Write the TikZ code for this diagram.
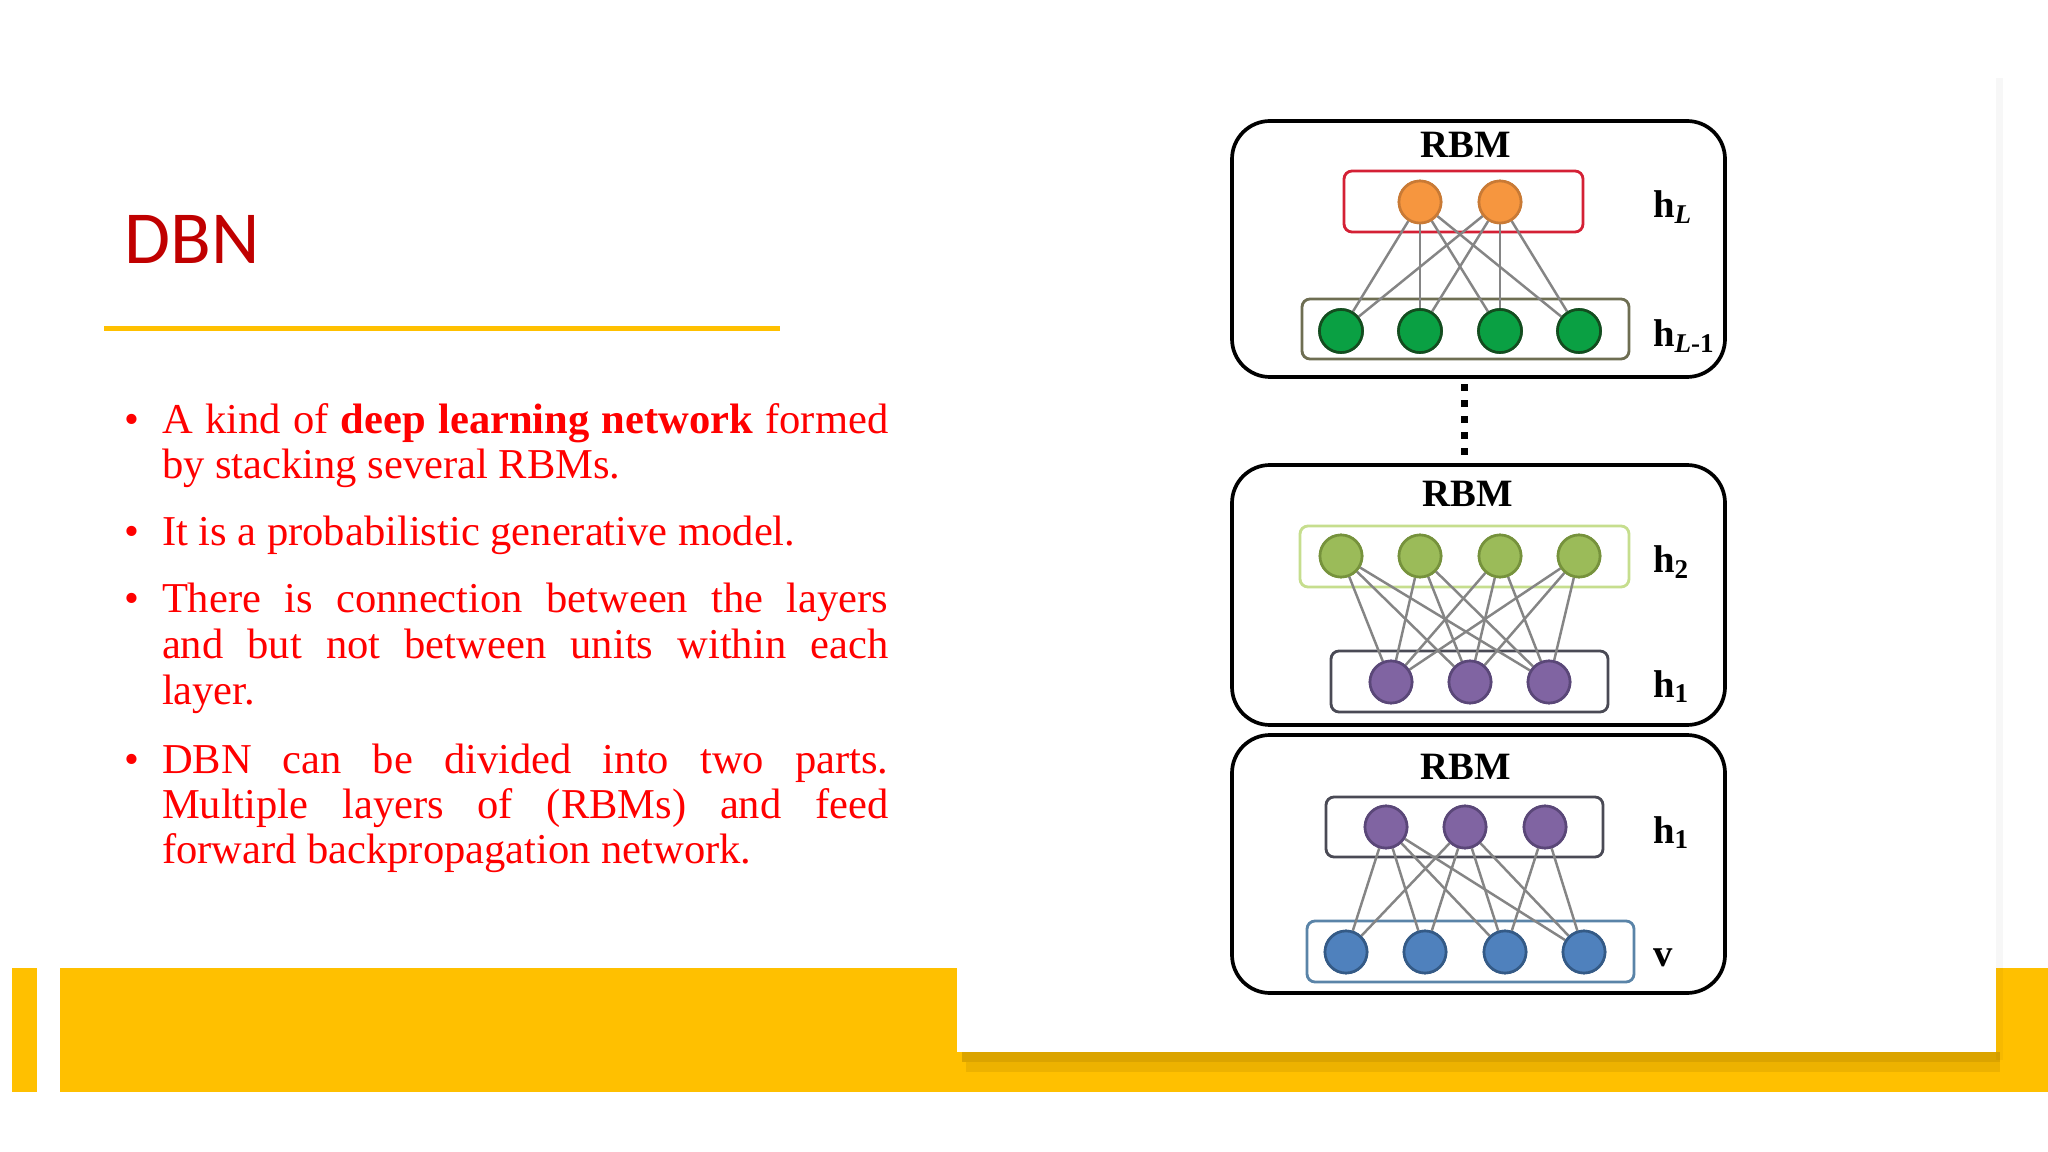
\documentclass[tikz,border=0pt]{standalone}
\usepackage{fontspec}
\setmainfont{Liberation Serif}
\newfontfamily\titlefont{Carlito}
\definecolor{slideyellow}{HTML}{FFC000}
\definecolor{titlered}{HTML}{C00000}
\definecolor{bodyred}{HTML}{FF0000}
\definecolor{linkgray}{HTML}{858585}
\definecolor{orfill}{HTML}{F6963F}
\definecolor{ordraw}{HTML}{C97A35}
\definecolor{dgfill}{HTML}{0AA043}
\definecolor{dgdraw}{HTML}{134D1F}
\definecolor{lgfill}{HTML}{9BBB59}
\definecolor{lgdraw}{HTML}{76923C}
\definecolor{pufill}{HTML}{8064A2}
\definecolor{pudraw}{HTML}{5A4778}
\definecolor{blfill}{HTML}{4F81BD}
\definecolor{bldraw}{HTML}{345A86}
\definecolor{boxred}{HTML}{D42035}
\definecolor{boxolive}{HTML}{6E6E52}
\definecolor{boxlg}{HTML}{C6DE8E}
\definecolor{boxgray}{HTML}{4A4A55}
\definecolor{boxblue}{HTML}{5A84A8}
\tikzset{
  txt/.style={anchor=base west, inner sep=0pt, outer sep=0pt, text=bodyred,
    font=\fontsize{12.1pt}{13pt}\selectfont},
  bul/.style={anchor=base west, inner sep=0pt, outer sep=0pt, text=bodyred,
    font=\fontsize{12.1pt}{13pt}\selectfont},
  unit/.style={circle, minimum size=4.2mm, inner sep=0pt, line width=0.75pt},
  layerbox/.style={rounded corners=0.8mm, line width=0.8pt},
  rbmbox/.style={rounded corners=3.8mm, draw=black, line width=1.05pt},
  link/.style={draw=linkgray, line width=0.7pt},
  lbl/.style={anchor=base west, inner sep=0pt, outer sep=0pt,
    font=\fontsize{11pt}{13pt}\selectfont\bfseries},
  rbmtitle/.style={inner sep=0pt, font=\fontsize{11pt}{13pt}\selectfont\bfseries},
}
\newcommand{\jline}[1]{\makebox[7.26cm][s]{#1}}
\begin{document}
\begin{tikzpicture}[x=0.01cm, y=-0.01cm]
\useasboundingbox (0,0) rectangle (2048,1152);
\fill[white] (0,0) rectangle (2048,1152);

% yellow band
\fill[slideyellow] (12,968) rectangle (37,1092);
\fill[slideyellow] (60,968) rectangle (2048,1092);

% card shadow and card
\fill[black, opacity=0.14] (962,1052) rectangle (2000,1062);
\fill[black, opacity=0.07] (966,1062) rectangle (2000,1072);
\fill[black, opacity=0.03] (1996,78) rectangle (2003,1060);
\fill[white] (957,72) rectangle (1996,1052);

% title
\node[anchor=base west, inner sep=0pt, text=titlered,
  font=\titlefont\fontsize{21.3pt}{26pt}\selectfont] (title) at (124,264) {DBN};
\fill[slideyellow] (104,326) rectangle (780,331);

% bullets
\node[bul] (b1) at (124,434) {\textbullet};
\node[bul] (b2) at (124,546) {\textbullet};
\node[bul] (b3) at (124,613) {\textbullet};
\node[bul] (b4) at (124,773) {\textbullet};

\node[txt] (l1) at (162,434) {\jline{A kind of \textbf{deep learning network} formed}};
\node[txt] (l2) at (162,479) {by stacking several RBMs.};
\node[txt] (l3) at (162,546) {It is a probabilistic generative model.};
\node[txt] (l4) at (162,613) {\jline{There is connection between the layers}};
\node[txt] (l5) at (162,659) {\jline{and but not between units within each}};
\node[txt] (l6) at (162,705) {layer.};
\node[txt] (l7) at (162,773) {\jline{DBN can be divided into two parts.}};
\node[txt] (l8) at (162,818) {\jline{Multiple layers of (RBMs) and feed}};
\node[txt] (l9) at (162,863) {forward backpropagation network.};

% ---------- top RBM ----------
\draw[rbmbox] (1232,121) rectangle (1725,377);
\node[rbmtitle] (rbmA) at (1466,145) {RBM};
\draw[layerbox, draw=boxred] (1344,171) rectangle (1583,232);
\draw[layerbox, draw=boxolive] (1302,299) rectangle (1629,359);
\node[unit, fill=orfill, draw=ordraw] (tA1) at (1420,202) {};
\node[unit, fill=orfill, draw=ordraw] (tA2) at (1500,202) {};
\node[unit, fill=dgfill, draw=dgdraw, minimum size=4.3mm] (bA1) at (1341,331) {};
\node[unit, fill=dgfill, draw=dgdraw, minimum size=4.3mm] (bA2) at (1420,331) {};
\node[unit, fill=dgfill, draw=dgdraw, minimum size=4.3mm] (bA3) at (1500,331) {};
\node[unit, fill=dgfill, draw=dgdraw, minimum size=4.3mm] (bA4) at (1579,331) {};
\foreach \i in {1,2} \foreach \j in {1,2,3,4} \draw[link] (tA\i) -- (bA\j);
\node[unit, fill=orfill, draw=ordraw] at (tA1) {};
\node[unit, fill=orfill, draw=ordraw] at (tA2) {};
\foreach \j in {1,2,3,4} \node[unit, fill=dgfill, draw=dgdraw, minimum size=4.3mm] at (bA\j) {};
\node[lbl] (labA1) at (1653,218) {h\textsubscript{\textit{L}}};
\node[lbl] (labA2) at (1653,347) {h\textsubscript{\textit{L}-1}};

% dots
\foreach \yy in {388,404,420,436,452}
  \fill[black] (1461,\yy-3.5) rectangle (1468,\yy+3.5);

% ---------- middle RBM ----------
\draw[rbmbox] (1232,465) rectangle (1725,725);
\node[rbmtitle] (rbmB) at (1468,494) {RBM};
\draw[layerbox, draw=boxlg] (1300,526) rectangle (1629,587);
\draw[layerbox, draw=boxgray] (1331,651) rectangle (1608,712);
\node[unit, fill=lgfill, draw=lgdraw] (tB1) at (1341,556) {};
\node[unit, fill=lgfill, draw=lgdraw] (tB2) at (1420,556) {};
\node[unit, fill=lgfill, draw=lgdraw] (tB3) at (1500,556) {};
\node[unit, fill=lgfill, draw=lgdraw] (tB4) at (1579,556) {};
\node[unit, fill=pufill, draw=pudraw] (bB1) at (1391,682) {};
\node[unit, fill=pufill, draw=pudraw] (bB2) at (1470,682) {};
\node[unit, fill=pufill, draw=pudraw] (bB3) at (1549,682) {};
\foreach \i in {1,2,3,4} \foreach \j in {1,2,3} \draw[link] (tB\i) -- (bB\j);
\foreach \i in {1,2,3,4} \node[unit, fill=lgfill, draw=lgdraw] at (tB\i) {};
\foreach \j in {1,2,3} \node[unit, fill=pufill, draw=pudraw] at (bB\j) {};
\node[lbl] (labB1) at (1653,573) {h\textsubscript{2}};
\node[lbl] (labB2) at (1653,697) {h\textsubscript{1}};

% ---------- bottom RBM ----------
\draw[rbmbox] (1232,735) rectangle (1725,993);
\node[rbmtitle] (rbmC) at (1466,767) {RBM};
\draw[layerbox, draw=boxgray] (1326,797) rectangle (1603,857);
\draw[layerbox, draw=boxblue] (1307,921) rectangle (1634,982);
\node[unit, fill=pufill, draw=pudraw] (tC1) at (1386,827) {};
\node[unit, fill=pufill, draw=pudraw] (tC2) at (1465,827) {};
\node[unit, fill=pufill, draw=pudraw] (tC3) at (1545,827) {};
\node[unit, fill=blfill, draw=bldraw] (bC1) at (1346,952) {};
\node[unit, fill=blfill, draw=bldraw] (bC2) at (1425,952) {};
\node[unit, fill=blfill, draw=bldraw] (bC3) at (1505,952) {};
\node[unit, fill=blfill, draw=bldraw] (bC4) at (1584,952) {};
\foreach \i/\j in {1/1,1/2,1/3,1/4,2/1,2/2,2/3,2/4,3/3,3/4} \draw[link] (tC\i) -- (bC\j);
\foreach \i in {1,2,3} \node[unit, fill=pufill, draw=pudraw] at (tC\i) {};
\foreach \j in {1,2,3,4} \node[unit, fill=blfill, draw=bldraw] at (bC\j) {};
\node[lbl] (labC1) at (1653,843) {h\textsubscript{1}};
\node[lbl] (labC2) at (1653,966) {v};
\end{tikzpicture}
\end{document}
